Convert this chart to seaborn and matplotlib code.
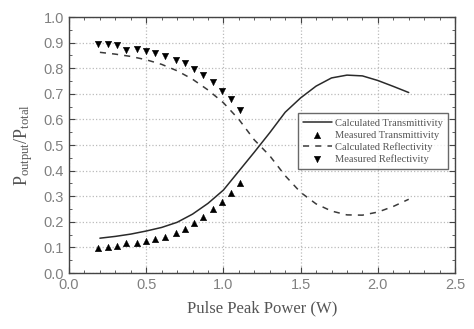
import numpy as np
import pandas as pd
import matplotlib
matplotlib.use("Agg")
import matplotlib.pyplot as plt
from matplotlib.ticker import MultipleLocator
import seaborn as sns

# Calculated curves
calc_power = [0.2, 0.3, 0.4, 0.5, 0.6, 0.7, 0.8, 0.9, 1.0, 1.1, 1.2,
              1.3, 1.4, 1.5, 1.6, 1.7, 1.8, 1.9, 2.0, 2.1, 2.2]
calc_trans = [0.136, 0.143, 0.152, 0.164, 0.178, 0.198, 0.230, 0.272, 0.324, 0.398, 0.472,
              0.548, 0.628, 0.684, 0.730, 0.762, 0.773, 0.770, 0.752, 0.729, 0.705]
calc_refl = [0.862, 0.855, 0.846, 0.833, 0.815, 0.790, 0.757, 0.715, 0.665, 0.600, 0.520,
             0.458, 0.380, 0.315, 0.270, 0.242, 0.227, 0.226, 0.238, 0.260, 0.288]

# Measured points
meas_power = [0.19, 0.25, 0.31, 0.37, 0.44, 0.50, 0.56, 0.62, 0.69, 0.75,
              0.81, 0.87, 0.93, 0.99, 1.05, 1.11]
meas_trans = [0.099, 0.100, 0.105, 0.118, 0.116, 0.124, 0.132, 0.142, 0.157, 0.173,
              0.194, 0.218, 0.249, 0.279, 0.311, 0.353]
meas_refl = [0.893, 0.893, 0.890, 0.871, 0.875, 0.867, 0.858, 0.849, 0.832, 0.819,
             0.796, 0.773, 0.745, 0.712, 0.678, 0.637]

xticks = [0.0, 0.5, 1.0, 1.5, 2.0, 2.5]
yticks = [0.0, 0.1, 0.2, 0.3, 0.4, 0.5, 0.6, 0.7, 0.8, 0.9, 1.0]

sns.set_theme(style="white")
plt.rcParams['font.family'] = ['Liberation Sans', 'DejaVu Sans']

calc_df = pd.DataFrame({"power": calc_power, "trans": calc_trans, "refl": calc_refl})
meas_df = pd.DataFrame({"power": meas_power, "trans": meas_trans, "refl": meas_refl})

fig = plt.figure(figsize=(4.74, 3.29), dpi=100)
ax = fig.add_axes([0.1456, 0.1702, 0.8144, 0.7781])

sns.lineplot(data=calc_df, x="power", y="trans", ax=ax, color="#2a2a2a", lw=1.1,
             label="Calculated Transmittivity")
sns.scatterplot(data=meas_df, x="power", y="trans", ax=ax, marker="^", color="black",
                s=22, edgecolor="black", linewidth=0.3, label="Measured Transmittivity")
sns.lineplot(data=calc_df, x="power", y="refl", ax=ax, color="#3a3a3a", lw=1.1,
             label="Calculated Reflectivity")
ax.lines[-1].set_dashes([4, 4])
sns.scatterplot(data=meas_df, x="power", y="refl", ax=ax, marker="v", color="black",
                s=22, edgecolor="black", linewidth=0.3, label="Measured Reflectivity")

ax.set_xlim(0.0, 2.5)
ax.set_ylim(0.0, 1.0)
ax.set_xticks(xticks)
ax.set_yticks(yticks)
ax.set_xticklabels([f"{v:.1f}" for v in xticks])
ax.set_yticklabels([f"{v:.1f}" for v in yticks])
ax.xaxis.set_minor_locator(MultipleLocator(0.1))
ax.yaxis.set_minor_locator(MultipleLocator(0.05))
ax.tick_params(which="both", direction="in", top=True, right=True, bottom=True, left=True,
               colors="#444444", labelcolor="#808080", labelsize=10.5)
ax.tick_params(which="major", length=4, width=0.8)
ax.tick_params(which="minor", length=2, width=0.6)
ax.grid(True, which="major", linestyle=":", color="#bbbbbb", lw=0.9)
for s in ax.spines.values():
    s.set_color("#444444")
    s.set_linewidth(1.0)

ax.set_xlabel("Pulse Peak Power (W)", family="Liberation Serif", fontsize=12,
              color="#555555", labelpad=6)
ax.set_ylabel(r"$\mathregular{P_{output}/P_{total}}$", family="Liberation Serif",
              fontsize=13, color="#555555", labelpad=6)

leg = ax.legend(loc="upper right", bbox_to_anchor=(0.995, 0.645),
                prop={"family": "Liberation Serif", "size": 7.6},
                frameon=True, fancybox=False, edgecolor="#444444",
                handlelength=2.7, handletextpad=0.3, borderpad=0.5, labelspacing=0.22)
leg.get_frame().set_linewidth(1.0)
for t in leg.get_texts():
    t.set_color("#555555")

fig.savefig("out.png", dpi=100, facecolor="white")
